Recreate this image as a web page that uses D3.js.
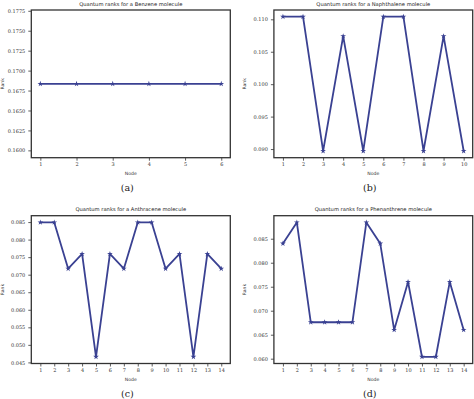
<!DOCTYPE html>
<html>
<head>
<meta charset="utf-8">
<script src="https://cdn.jsdelivr.net/npm/d3@7"></script>
<style>
  html, body { margin: 0; padding: 0; background: #fff; }
  svg { display: block; }
</style>
</head>
<body>
<svg id="chart" width="474" height="399"></svg>
<script>
// ---- data ----
const benzeneNodes = [1, 2, 3, 4, 5, 6];
const benzeneRanks = [0.16834, 0.16834, 0.16834, 0.16834, 0.16834, 0.16834];
const benzeneTicks = [0.1600, 0.1625, 0.1650, 0.1675, 0.1700, 0.1725, 0.1750, 0.1775];

const naphNodes = [1, 2, 3, 4, 5, 6, 7, 8, 9, 10];
const naphRanks = [0.1104, 0.1104, 0.0897, 0.1074, 0.0897, 0.1104, 0.1104, 0.0897, 0.1074, 0.0897];
const naphTicks = [0.090, 0.095, 0.100, 0.105, 0.110];

const anthNodes = [1, 2, 3, 4, 5, 6, 7, 8, 9, 10, 11, 12, 13, 14];
const anthRanks = [0.0849, 0.0849, 0.0717, 0.0759, 0.0466, 0.0759, 0.0717, 0.0849, 0.0849, 0.0717, 0.0759, 0.0466, 0.0759, 0.0717];
const anthTicks = [0.045, 0.050, 0.055, 0.060, 0.065, 0.070, 0.075, 0.080, 0.085];

const phenNodes = [1, 2, 3, 4, 5, 6, 7, 8, 9, 10, 11, 12, 13, 14];
const phenRanks = [0.0840, 0.0884, 0.0676, 0.0676, 0.0676, 0.0676, 0.0884, 0.0840, 0.0660, 0.0760, 0.0604, 0.0604, 0.0760, 0.0660];
const phenTicks = [0.060, 0.065, 0.070, 0.075, 0.080, 0.085];

const titles = [
  "Quantum ranks for a Benzene molecule",
  "Quantum ranks for a Naphthalene molecule",
  "Quantum ranks for a Anthracene molecule",
  "Quantum ranks for a Phenanthrene molecule"
];
const captions = ["(a)", "(b)", "(c)", "(d)"];

// ---- layout ----
const cols = [[31.3, 230.3], [273.9, 472.7]];
const rows = [[10, 157.7], [215.7, 363.5]];
const lineColor = "#3a4192";
const frameColor = "#333";

const panels = [
  { nodes: benzeneNodes, ranks: benzeneRanks, ticks: benzeneTicks, fmt: ".4f", col: 0, row: 0, flat: true },
  { nodes: naphNodes, ranks: naphRanks, ticks: naphTicks, fmt: ".3f", col: 1, row: 0 },
  { nodes: anthNodes, ranks: anthRanks, ticks: anthTicks, fmt: ".3f", col: 0, row: 1 },
  { nodes: phenNodes, ranks: phenRanks, ticks: phenTicks, fmt: ".3f", col: 1, row: 1 }
];

const svg = d3.select("#chart");
svg.append("rect").attr("width", 474).attr("height", 399).attr("fill", "#fff");

panels.forEach((p, i) => {
  const [x0, x1] = cols[p.col];
  const [y0, y1] = rows[p.row];
  const n0 = d3.min(p.nodes), n1 = d3.max(p.nodes);
  const xm = 0.05 * (n1 - n0);
  const x = d3.scaleLinear().domain([n0 - xm, n1 + xm]).range([x0, x1]);

  let lo = d3.min(p.ranks), hi = d3.max(p.ranks);
  if (p.flat) { lo = lo * 0.95; hi = hi * 1.05; }
  const ym = 0.05 * (hi - lo);
  const y = d3.scaleLinear().domain([lo - ym, hi + ym]).range([y1, y0]);

  const g = svg.append("g");

  // axes
  const xAxis = d3.axisBottom(x).tickValues(p.nodes).tickSize(3).tickPadding(2).tickFormat(d3.format("d"));
  const yAxis = d3.axisLeft(y).tickValues(p.ticks).tickSize(3).tickPadding(3).tickFormat(d3.format(p.fmt));

  const gx = g.append("g").attr("transform", `translate(0,${y1})`).call(xAxis);
  const gy = g.append("g").attr("transform", `translate(${x0},0)`).call(yAxis);
  [gx, gy].forEach(a => {
    a.select(".domain").remove();
    a.selectAll(".tick line").attr("stroke", frameColor).attr("stroke-width", 0.8);
    a.selectAll(".tick text")
      .attr("fill", "#333")
      .style("font-family", "'DejaVu Serif', 'Liberation Serif', serif")
      .style("font-size", "5px");
  });

  // frame
  g.append("rect")
    .attr("x", x0).attr("y", y0)
    .attr("width", x1 - x0).attr("height", y1 - y0)
    .attr("fill", "none").attr("stroke", frameColor).attr("stroke-width", 1.3);

  // line
  const line = d3.line().x((d, k) => x(p.nodes[k])).y(d => y(d));
  g.append("path").datum(p.ranks)
    .attr("d", line)
    .attr("fill", "none")
    .attr("stroke", lineColor)
    .attr("stroke-width", 1.8)
    .attr("stroke-linejoin", "round");

  // markers
  const star = d3.symbol().type(d3.symbolStar).size(10);
  g.selectAll("path.mk").data(p.ranks).enter().append("path")
    .attr("class", "mk")
    .attr("d", star)
    .attr("transform", (d, k) => `translate(${x(p.nodes[k])},${y(d)})`)
    .attr("fill", lineColor);

  const cx = (x0 + x1) / 2;
  // title
  g.append("text")
    .attr("x", cx).attr("y", y0 - 4.5)
    .attr("text-anchor", "middle")
    .style("font-family", "'DejaVu Sans', 'Liberation Sans', sans-serif")
    .style("font-size", "5.2px")
    .attr("fill", "#222")
    .text(titles[i]);

  // x label
  g.append("text")
    .attr("x", cx).attr("y", y1 + 17)
    .attr("text-anchor", "middle")
    .style("font-family", "'DejaVu Sans', 'Liberation Sans', sans-serif")
    .style("font-size", "4.6px")
    .attr("fill", "#333")
    .text("Node");

  // y label
  g.append("text")
    .attr("transform", `translate(${x0 - 27.5},${(y0 + y1) / 2}) rotate(-90)`)
    .attr("text-anchor", "middle")
    .style("font-family", "'DejaVu Sans', 'Liberation Sans', sans-serif")
    .style("font-size", "4.6px")
    .attr("fill", "#333")
    .text("Rank");

  // caption
  g.append("text")
    .attr("x", cx - 3.5).attr("y", y1 + 33.5)
    .attr("text-anchor", "middle")
    .style("font-family", "'DejaVu Serif', 'Liberation Serif', serif")
    .style("font-size", "9.5px")
    .attr("fill", "#222")
    .text(captions[i]);
});
</script>
</body>
</html>
